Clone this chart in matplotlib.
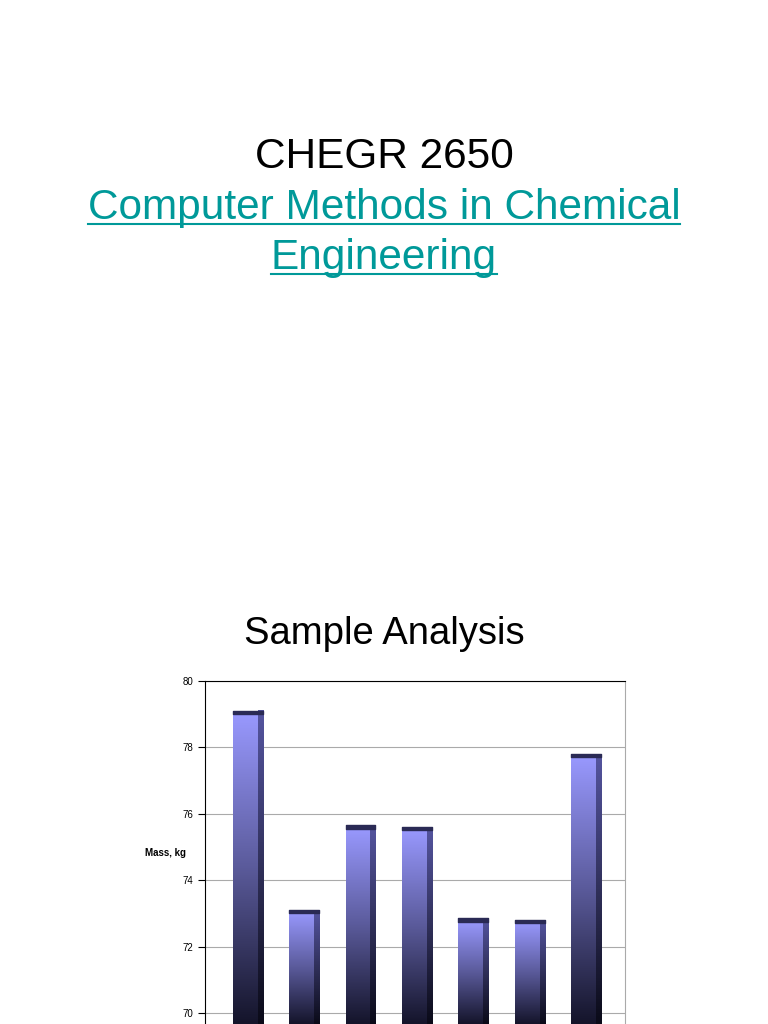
import matplotlib
matplotlib.use("Agg")
import matplotlib.pyplot as plt
import numpy as np
from matplotlib.colors import LinearSegmentedColormap

samples = [1, 2, 3, 4, 5, 6, 7]
mass = [79.05, 73.05, 75.6, 75.55, 72.8, 72.75, 77.75]
yticks = [70, 72, 74, 76, 78, 80]

fig = plt.figure(figsize=(7.68, 10.24), dpi=100)
plt.rcParams['font.family'] = ['Liberation Sans', 'DejaVu Sans']

fig.text(0.5, 1 - 157/1024, "CHEGR 2650", ha='center', va='center', fontsize=30.5)
t1 = fig.text(0.5, 1 - 208/1024, "Computer Methods in Chemical", ha='center', va='center', fontsize=30.5, color='#009999')
t2 = fig.text(0.5, 1 - 258/1024, "Engineering", ha='center', va='center', fontsize=30.5, color='#009999')
fig.text(0.5, 1 - 634/1024, "Sample Analysis", ha='center', va='center', fontsize=27.5)

fig.canvas.draw()
r = fig.canvas.get_renderer()
for t in (t1, t2):
    bb = t.get_window_extent(r).transformed(fig.transFigure.inverted())
    y = bb.y0 + 0.004
    fig.add_artist(plt.Line2D([bb.x0, bb.x1], [y, y], color='#009999', lw=1.5, transform=fig.transFigure))

ax = fig.add_axes([205/768, 0, 420/768, 1 - 681/1024])
ax.set_xlim(-0.71, 6.73)
ax.set_ylim(69.67, 80)
ax.set_yticks(yticks)
ax.set_xticks([])
ax.tick_params(axis='y', labelsize=7, length=5)
for s in ['bottom']:
    ax.spines[s].set_visible(False)
ax.spines['top'].set_linewidth(0.8)
ax.spines['right'].set_color('#aaaaaa')
ax.grid(axis='y', color='#aaaaaa', lw=0.8)
ax.set_axisbelow(True)
ax.set_ylabel("Mass, kg", rotation=0, fontsize=7, fontweight='bold', labelpad=12, va='center')

front = LinearSegmentedColormap.from_list('f', ['#14142a', '#5a5a9a', '#9999ff'])
side = LinearSegmentedColormap.from_list('s', ['#0a0a18', '#30305a', '#5555a0'])
grad = np.linspace(0, 1, 256).reshape(-1, 1)
w = 0.22
for i, v in enumerate(mass):
    x = i
    ax.imshow(grad, cmap=front, origin='lower', aspect='auto',
              extent=[x - w, x + w, ax.get_ylim()[0], v], zorder=3)
    ax.imshow(grad, cmap=side, origin='lower', aspect='auto',
              extent=[x + w, x + w + 0.09, ax.get_ylim()[0], v + 0.05], zorder=3)
    ax.fill_between([x - w, x + w + 0.09], v - 0.05, v + 0.05, color='#2a2a55', zorder=4)
ax.set_xlim(-0.71, 6.73)
ax.set_ylim(69.67, 80)

fig.savefig("out.png", dpi=100)
